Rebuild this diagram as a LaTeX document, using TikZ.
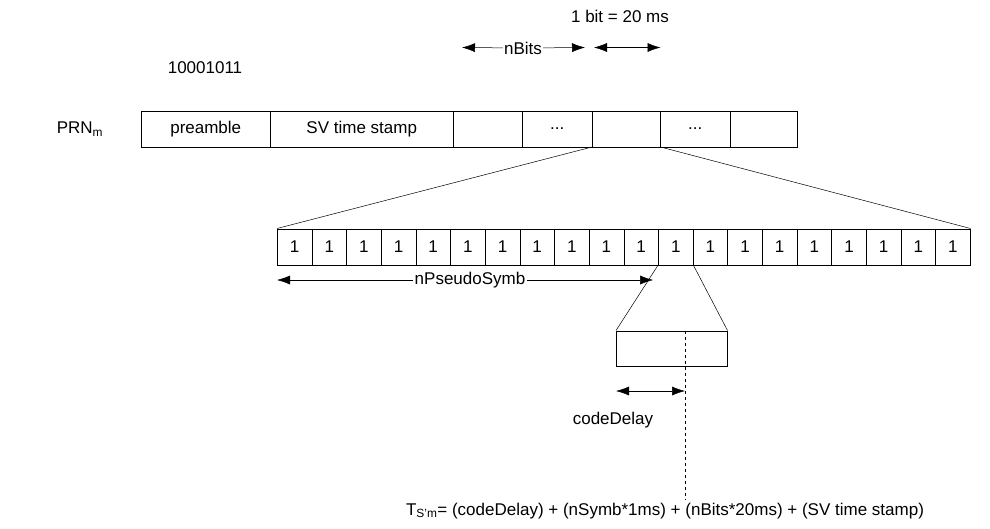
\documentclass[tikz,border=0pt]{standalone}
\usepackage{fontspec}
\setmainfont{Liberation Sans}
\usetikzlibrary{arrows,arrows.meta,positioning,calc}
\tikzset{
  field/.style={draw, rectangle, minimum height=36pt, inner sep=0pt, anchor=south west},
  symb/.style={draw, rectangle, minimum width=34.65pt, minimum height=36pt, inner sep=0pt, anchor=south west},
  lbl/.style={inner sep=1pt, fill=white},
  tip/.tip={Latex[length=13pt,width=9pt]},
}
\begin{document}
\begin{tikzpicture}[x=1pt, y=-1pt, font=\fontsize{17}{19}\selectfont, line width=0.5pt]
    \useasboundingbox (0,0) rectangle (990,528);
    % Navigation message of PRN m
    \node (prn) at (80,129) {PRN\textsubscript{m}};
    \node[field, minimum width=129pt] (pre) at (141,147) {preamble};
    \node[field, minimum width=183pt] (tstamp) at (270,147) {SV time stamp};
    \node[field, minimum width=69pt] (b1) at (453,147) {};
    \node[field, minimum width=70pt] (b2) at (522,147) {...};
    \node[field, minimum width=68pt] (bit) at (592,147) {};
    \node[field, minimum width=70pt] (b4) at (660,147) {...};
    \node[field, minimum width=67pt] (b5) at (730,147) {};
    \node (prebits) at (205,68) {10001011};
    \node (bitlen) at (620,16) {1 bit = 20 ms};

    % Bit spans
    \node[lbl] (nbits) at (523,48) {nBits};
    \coordinate (nb1) at ($(b1.north west)+(9,-63)$);
    \coordinate (nb2) at ($(bit.north west)+(-7,-63)$);
    \draw[-tip] (nbits) -- (nb1);
    \draw[-tip] (nbits) -- (nb2);
    \coordinate (bl) at ($(bit.north west)+(2,-63)$);
    \coordinate (br) at ($(bit.north east)+(0,-63)$);
    \draw[tip-tip] (bl) -- (br);

    % Pseudo symbols of one bit
    \foreach \i in {0,...,19}
        \node[symb] (s\i) at (277+34.65*\i,265) {1};
    \draw (bit.south west) -- (s0.north west);
    \draw (bit.south east) -- (s19.north east);

    \node[lbl] (npsym) at (470,280) {nPseudoSymb};
    \coordinate (np1) at ($(s0.south west)+(0,15)$);
    \coordinate (np2) at ($(s11.south west)+(-5,15)$);
    \draw[-tip] (npsym) -- (np1);
    \draw[-tip] (npsym) -- (np2);

    % Chip of one symbol
    \node[draw, rectangle, minimum width=111pt, minimum height=35pt, inner sep=0pt, anchor=south west] (chip) at (616,366) {};
    \draw (s11.south west) -- (chip.north west);
    \draw (s11.south east) -- (chip.north east);
    \coordinate (cd) at ($(chip.north west)+(69,0)$);
    \node (tsm) at (665,511) {T\textsubscript{S'm}= (codeDelay) + (nSymb*1ms) + (nBits*20ms) + (SV time stamp)};
    \draw[dashed] (cd) -- (cd |- tsm.north);
    \coordinate (cdl) at ($(chip.south west)+(0,25)$);
    \draw[tip-tip] (cdl) -- (cdl -| cd);
    \node (cdtxt) at (613,420) {codeDelay};
\end{tikzpicture}
\end{document}
